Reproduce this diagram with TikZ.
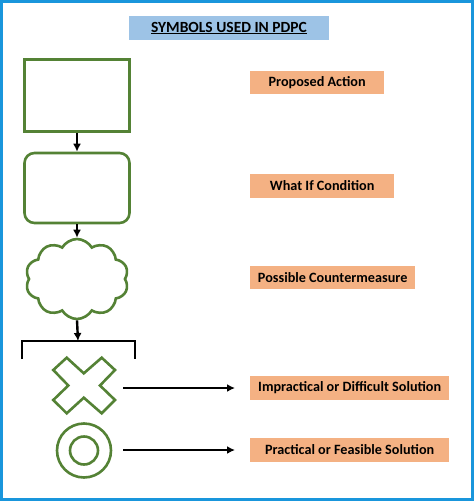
\documentclass[tikz,border=0pt]{standalone}
\usepackage{fontspec}
\setmainfont{Carlito}
\usetikzlibrary{shapes.symbols,arrows.meta}
\definecolor{frameblue}{RGB}{25,150,220}
\definecolor{titleblue}{RGB}{157,195,230}
\definecolor{symgreen}{RGB}{84,130,53}
\definecolor{labelorange}{RGB}{244,177,131}
\tikzset{
  sym/.style={draw=symgreen, line width=2.6pt, fill=white},
  lbl/.style={fill=labelorange, font=\bfseries\fontsize{14.2}{16}\selectfont, text=black, anchor=west, minimum height=23.5pt, inner sep=0pt},
  conn/.style={line width=2.4pt, -{Latex[length=8pt,width=8pt]}},
}
\begin{document}
\begin{tikzpicture}[x=1pt,y=-1pt]
\useasboundingbox (0,0) rectangle (474,501);
\draw[frameblue, line width=3pt] (1.5,1.5) rectangle (472.5,499.5);
% title
\node[fill=titleblue, minimum width=200pt, minimum height=24pt, inner sep=0pt, font=\bfseries\fontsize{15.5}{17}\selectfont] (title) at (229,28) {\underline{SYMBOLS USED IN PDPC}};
% symbols
\node[sym, minimum width=105pt, minimum height=72pt, inner sep=0pt] (act) at (77,95.5) {};
\node[sym, rounded corners=10pt, minimum width=105pt, minimum height=70pt, inner sep=0pt] (cond) at (77,188) {};
\node[sym, cloud, cloud puffs=10, cloud puff arc=120, aspect=1.3, minimum width=103pt, minimum height=80pt, inner sep=0pt] (cloud) at (77,279) {};
\coordinate (brL) at (22,359);
\coordinate (brR) at (135,359);
\coordinate (brT) at (78,341);
\draw[line width=2.6pt, line cap=butt] (brL) -- (22,341) -- (135,341) -- (brR);
\draw[sym, line join=miter] (66.7,357.7) -- (83.8,373.3) -- (101.7,357.7) -- (115,370) -- (100,385.5) -- (115,400) -- (101.7,413.3) -- (83.8,397.7) -- (66.7,413.3) -- (53.3,400) -- (68.3,385.5) -- (53.3,370) -- cycle;
\node[inner sep=0pt, minimum size=62pt] (xs) at (84,385.5) {};
\node[sym, circle, minimum size=54pt, inner sep=0pt] (oo) at (84,450.5) {};
\node[draw=symgreen, line width=2.6pt, circle, minimum size=28pt, inner sep=0pt] (oi) at (84,450.5) {};
% connectors
\draw[conn] (act.south) -- (cond.north);
\draw[conn] (cond.south) -- (cloud.north);
\draw[conn] (cloud.south) -- (brT);
% labels
\node[lbl, minimum width=134pt] (l1) at (250,82.5) {Proposed Action};
\node[lbl, minimum width=144pt] (l2) at (250,186) {What If Condition};
\node[lbl, minimum width=165pt] (l3) at (250,277.5) {Possible Countermeasure};
\node[lbl, minimum width=199pt] (l4) at (250,388) {Impractical or Difficult Solution};
\node[lbl, minimum width=199pt] (l5) at (250,450) {Practical or Feasible Solution};
\draw[conn] ([xshift=8pt]xs.east|-l4.west) -- ([xshift=-15pt]l4.west);
\draw[conn] ([xshift=8pt]xs.east|-l5.west) -- ([xshift=-15pt]l5.west);
\end{tikzpicture}
\end{document}
